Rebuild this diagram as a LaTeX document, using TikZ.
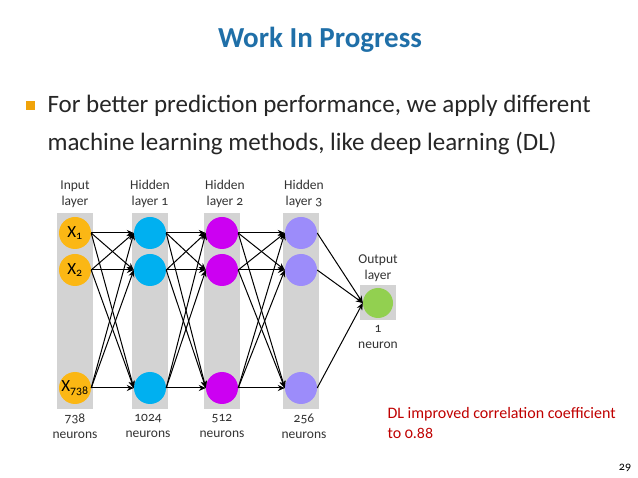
\documentclass[tikz,border=0pt]{standalone}
\usepackage{fontspec}
\setmainfont{Carlito}[Numbers=OldStyle]
\usetikzlibrary{arrows.meta}
\definecolor{ttl}{HTML}{1F6FA8}
\definecolor{bul}{HTML}{F0A30A}
\definecolor{inc}{HTML}{FBB714}
\definecolor{h1c}{HTML}{00B0F0}
\definecolor{h2c}{HTML}{CC00F2}
\definecolor{h3c}{HTML}{9C8CFA}
\definecolor{outc}{HTML}{92D050}
\definecolor{bar}{HTML}{D3D3D3}
\definecolor{red}{HTML}{C00000}
\begin{document}
\begin{tikzpicture}[x=1pt,y=-1pt,
  neu/.style={circle,minimum size=32pt,inner sep=0pt},
  lab/.style={font=\fontsize{13.5}{16}\selectfont,align=center,text=black!80},
  conn/.style={-{Stealth[length=7pt,width=6pt]},line width=1pt}]
\useasboundingbox (0,0) rectangle (638,478);
\fill[white] (0,0) rectangle (638,478);
\node[font=\fontsize{29}{32}\selectfont\bfseries,text=ttl] (title) at (320,40) {Work In Progress};
\fill[bul] (26,101) rectangle (35,110);
\node[anchor=west,font=\fontsize{25}{28}\selectfont,text=black!85] (l1) at (44,106) {For better prediction performance, we apply different};
\node[anchor=west,font=\fontsize{25}{28}\selectfont,text=black!85] (l2) at (44,144) {machine learning methods, like deep learning (DL)};
% bars
\foreach \c in {75,150,222,301} \fill[bar] (\c-18,213) rectangle (\c+18,409);
\fill[bar] (360,285) rectangle (396,320);
\foreach \y/\n in {233/a,270/b,388/c}{
 \node[neu,fill=inc] (i\n) at (75,\y) {};
 \node[neu,fill=h1c] (h\n) at (150,\y) {};
 \node[neu,fill=h2c] (k\n) at (222,\y) {};
 \node[neu,fill=h3c] (m\n) at (301,\y) {};
}
\node[font=\fontsize{17}{18}\selectfont] at (ia) {X\textsubscript{1}};
\node[font=\fontsize{17}{18}\selectfont] at (ib) {X\textsubscript{2}};
\node[font=\fontsize{17}{18}\selectfont] at (ic) {X\textsubscript{738}};
\node[neu,minimum size=30pt,fill=outc] (o) at (378,303) {};
\foreach \s/\t in {i/h,h/k,k/m}
 \foreach \p in {a,b,c}
  \foreach \q in {a,b,c}
   \draw[conn] (\s\p.east) -- (\t\q.west);
\foreach \p in {a,b,c} \draw[conn] (m\p.east) -- (o.west);
\node[lab] (t1) at (75,194) {Input\\layer};
\node[lab] (t2) at (150,194) {Hidden\\layer 1};
\node[lab] (t3) at (225,194) {Hidden\\layer 2};
\node[lab] (t4) at (304,194) {Hidden\\layer 3};
\node[lab] (t5) at (378,268) {Output\\layer};
\node[lab] (t6) at (378,337) {1\\neuron};
\node[lab] (b1) at (75,426) {738\\neurons};
\node[lab] (b2) at (148,426) {1024\\neurons};
\node[lab] (b3) at (222,426) {512\\neurons};
\node[lab] (b4) at (304,426) {256\\neurons};
\node[anchor=west,align=left,font=\fontsize{16}{20}\selectfont,text=red] (dl) at (384,423) {DL improved correlation coefficient\\to 0.88};
\node[font=\fontsize{12}{14}\selectfont] (pg) at (625,468) {29};
\end{tikzpicture}
\end{document}
